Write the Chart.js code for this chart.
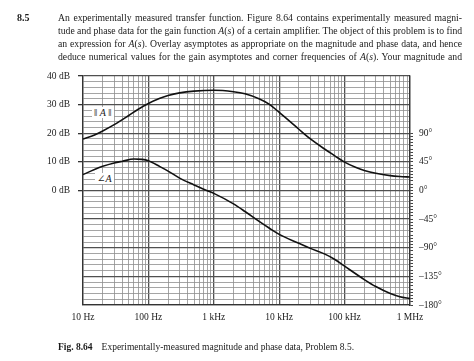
<!DOCTYPE html>
<html>
<head>
<meta charset="utf-8">
<script src="https://cdn.jsdelivr.net/npm/chart.js@4.4.1/dist/chart.umd.min.js"></script>
<style>
  html, body { margin: 0; padding: 0; background: #fff; }
  #page { position: relative; width: 474px; height: 361px; overflow: hidden; font-family: "Liberation Serif", "DejaVu Serif", serif; color: #1a1a1a; }
  #chart { position: absolute; left: 0; top: 0; }
  .num { position: absolute; left: 17px; top: 10.5px; font-size: 10px; font-weight: bold; line-height: 13px; }
  .para { position: absolute; left: 58px; top: 10.5px; width: 404px; font-size: 9.7px; line-height: 13px; }
  .para div { text-align: justify; text-align-last: justify; white-space: nowrap; }
  .lbl { position: absolute; font-size: 10px; background: #fff; padding: 0 2px; line-height: 11px; }
  .bar { color: #666; font-weight: bold; }
  .cap { position: absolute; left: 58px; top: 341px; font-size: 9.5px; line-height: 12px; white-space: nowrap; }
  .cap b { margin-right: 9px; }
</style>
</head>
<body>
<div id="page">
  <canvas id="chart" width="474" height="361"></canvas>
  <div class="num">8.5</div>
  <div class="para">
    <div>An experimentally measured transfer function. Figure 8.64 contains experimentally measured magni-</div>
    <div>tude and phase data for the gain function <i>A</i>(<i>s</i>) of a certain amplifier. The object of this problem is to find</div>
    <div>an expression for <i>A</i>(<i>s</i>). Overlay asymptotes as appropriate on the magnitude and phase data, and hence</div>
    <div>deduce numerical values for the gain asymptotes and corner frequencies of <i>A</i>(<i>s</i>). Your magnitude and</div>
  </div>
  <div class="lbl" style="left:92px; top:107px;"><span class="bar">&#8214;</span> <i>A</i> <span class="bar">&#8214;</span></div>
  <div class="lbl" style="left:95px; top:173px;">&#8736;<i>A</i></div>
  <div class="cap"><b>Fig. 8.64</b>Experimentally-measured magnitude and phase data, Problem 8.5.</div>
</div>
<script>
// datos
const magFreq = [10, 15, 20, 30, 50, 70, 100, 150, 200, 300, 500, 1000, 2000, 3000, 5000, 7000, 10000, 15000, 20000, 30000, 50000, 70000, 100000, 150000, 200000, 300000, 500000, 700000, 1000000];
const magDb   = [18, 19.4, 20.8, 23.0, 26.2, 28.4, 30.4, 32.2, 33.2, 34.1, 34.7, 35, 34.5, 33.8, 32.0, 30.2, 27.3, 23.9, 21.4, 18.0, 14.4, 12.2, 9.9, 8.0, 7.0, 6.0, 5.2, 4.9, 4.7];

const phaseFreq = [10, 15, 20, 30, 40, 60, 80, 100, 150, 200, 300, 500, 700, 1000, 2000, 3000, 5000, 7000, 10000, 20000, 30000, 50000, 70000, 100000, 200000, 300000, 500000, 700000, 1000000];
const phaseDeg  = [25, 33, 38, 43.3, 46, 49.5, 49, 46.8, 37.5, 30.5, 19.5, 8.8, 2, -4.5, -21, -33, -49, -59, -69, -83, -91, -100, -108, -119, -140, -151, -162, -167, -170];

const freqTicks  = [10, 100, 1000, 10000, 100000, 1000000];
const freqLabels = ['10 Hz', '100 Hz', '1 kHz', '10 kHz', '100 kHz', '1 MHz'];
const dbLabels   = [0, 10, 20, 30, 40];
const degLabels  = [90, 45, 0, -45, -90, -135, -180];

const MAJOR = '#505050';
const MINOR = '#8e8e8e';
const TXT = '#1a1a1a';
const FONT = { family: '"Liberation Serif", "DejaVu Serif", serif', size: 9.5 };

const isDecade = v => Math.abs(Math.log10(v) - Math.round(Math.log10(v))) < 1e-9;

const magData = magFreq.map((f, i) => ({ x: f, y: magDb[i] }));
const phaseData = phaseFreq.map((f, i) => ({ x: f, y: phaseDeg[i] }));

new Chart(document.getElementById('chart'), {
  type: 'line',
  data: {
    datasets: [
      { data: magData, yAxisID: 'y', borderColor: '#111', borderWidth: 1.6, pointRadius: 0, cubicInterpolationMode: 'monotone' },
      { data: phaseData, yAxisID: 'y2', borderColor: '#111', borderWidth: 1.6, pointRadius: 0, cubicInterpolationMode: 'monotone' }
    ]
  },
  options: {
    responsive: false,
    animation: false,
    layout: { padding: { top: 76, left: 0, right: 0, bottom: 0 } },
    plugins: { legend: { display: false }, tooltip: { enabled: false } },
    scales: {
      x: {
        type: 'logarithmic',
        min: 10, max: 1000000,
        afterBuildTicks: scale => {
          const t = [];
          for (let e = 1; e <= 6; e++) {
            for (let m = 1; m <= 9; m++) {
              const v = m * Math.pow(10, e);
              if (v <= 1000000) t.push({ value: v });
            }
          }
          scale.ticks = t;
        },
        afterFit: scale => { scale.height = 56; },
        ticks: {
          autoSkip: false, maxRotation: 0, padding: 7, color: TXT, font: FONT,
          callback: v => { const i = freqTicks.indexOf(v); return i >= 0 ? freqLabels[i] : ''; }
        },
        grid: {
          drawTicks: false,
          color: c => isDecade(c.tick.value) ? MAJOR : MINOR,
          lineWidth: c => isDecade(c.tick.value) ? 1.3 : 0.8
        },
        border: { color: '#333', width: 1.3 }
      },
      y: {
        position: 'left',
        min: -40, max: 40,
        afterFit: scale => { scale.width = 83; },
        ticks: {
          stepSize: 2, autoSkip: false, padding: 8, color: TXT, font: FONT,
          callback: v => dbLabels.includes(v) ? v + ' dB' : ''
        },
        grid: {
          tickLength: 5,
          tickColor: c => dbLabels.includes(c.tick.value) ? '#333' : 'transparent',
          color: c => c.tick.value % 10 === 0 ? MAJOR : MINOR,
          lineWidth: c => c.tick.value % 10 === 0 ? 1.3 : 0.8
        },
        border: { color: '#333', width: 1.3 }
      },
      y2: {
        position: 'right',
        min: -180, max: 180,
        afterFit: scale => { scale.width = 64; },
        ticks: {
          stepSize: 5, autoSkip: false, padding: 6, color: TXT, font: FONT,
          callback: v => degLabels.includes(v) ? (v < 0 ? '\u2013' + (-v) : v) + '\u00b0' : ''
        },
        grid: {
          drawOnChartArea: false,
          tickLength: 3,
          tickColor: c => c.tick.value <= 90 ? '#444' : 'transparent'
        },
        border: { color: '#333', width: 1.3 }
      }
    }
  }
});
</script>
</body>
</html>
